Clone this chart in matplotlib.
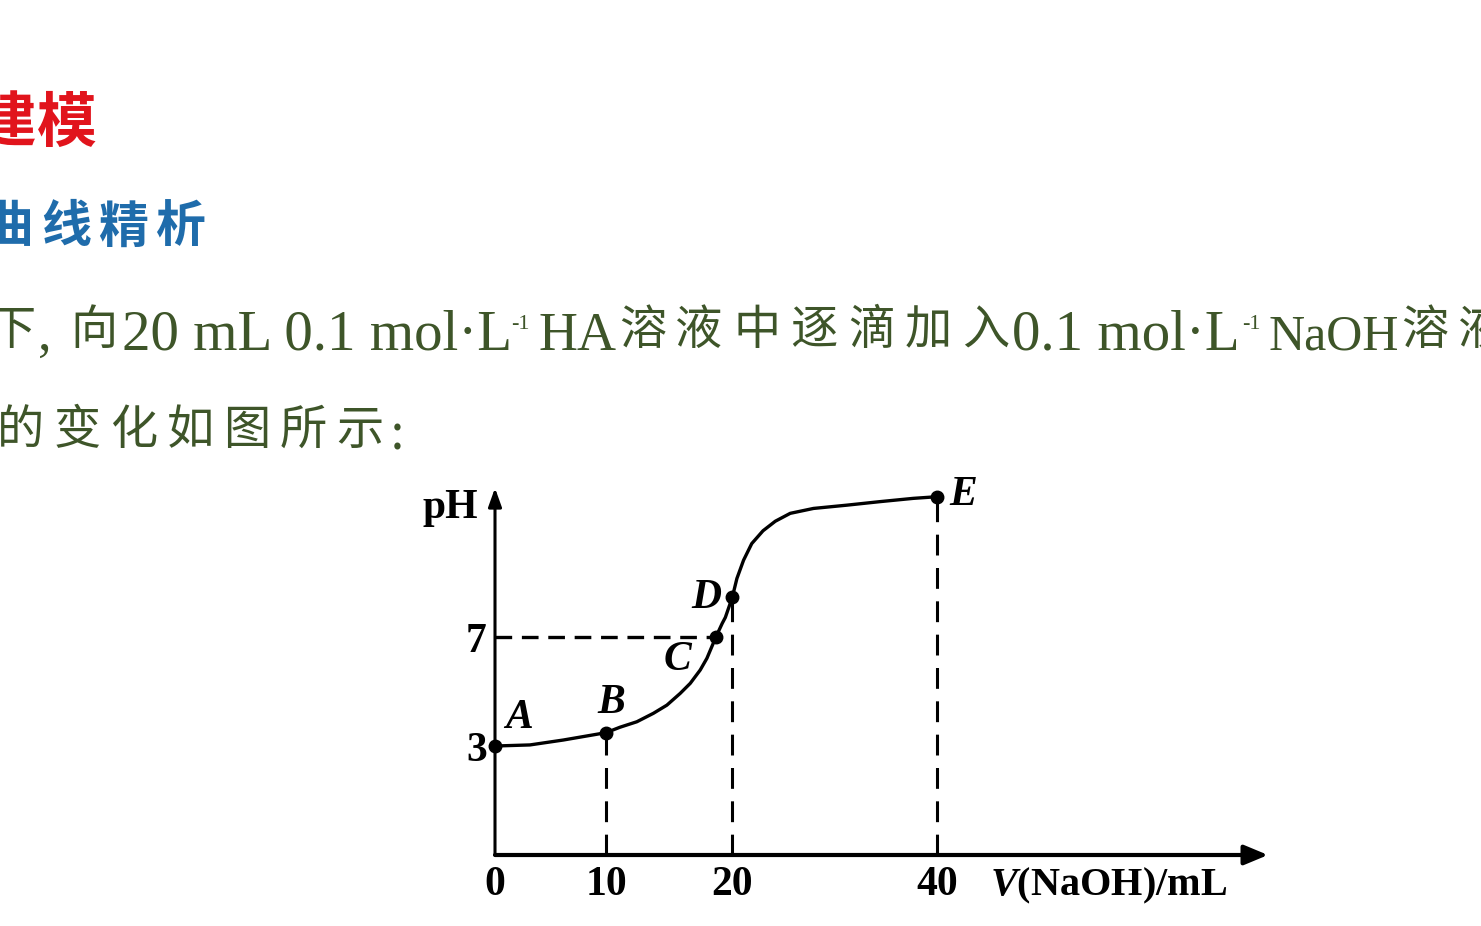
import numpy as np
import matplotlib
matplotlib.use('Agg')
import matplotlib.pyplot as plt

# titration curve of HA with NaOH
vol = [0, 3.15, 6.15, 10, 11.11, 12.44, 13.75, 14.82, 15.87, 16.67, 17.46,
       17.99, 18.7, 19.2, 19.45, 20, 20.45, 21.1, 21.9, 23.0, 24.2, 25.66,
       27.93, 31.19, 34.44, 37.69, 40]
ph = [3.0, 3.04, 3.22, 3.49, 3.69, 3.89, 4.20, 4.50, 4.93, 5.30, 5.79,
      6.22, 7.0, 7.5, 7.72, 8.46, 9.15, 9.82, 10.43, 10.9, 11.25, 11.54,
      11.72, 11.84, 11.97, 12.09, 12.15]

pt_names = ['A', 'B', 'C', 'D', 'E']
pt_vol = [0, 10, 18.7, 20, 40]
pt_ph = [3.0, 3.49, 7.0, 8.46, 12.15]

x_ticks = [0, 10, 20, 40]
y_ticks = [3, 7]

W, H = 1481, 926
plt.rcParams['font.family'] = ['Liberation Serif', 'Noto Sans CJK SC']
plt.rcParams['mathtext.fontset'] = 'custom'
plt.rcParams['mathtext.rm'] = 'Liberation Serif:bold'
plt.rcParams['mathtext.it'] = 'Liberation Serif:italic:bold'
plt.rcParams['lines.scale_dashes'] = False

fig = plt.figure(figsize=(W / 100, H / 100), dpi=100)

green = '#3e5529'
cjk = ['Noto Sans CJK SC']


def han(x, y, s, step, **kw):
    # chinese characters one by one, the slide uses wide letter spacing
    for i, ch in enumerate(s):
        fig.text((x + i * step) / W, 1 - y / H, ch, ha='center', va='center',
                 family=cjk, **kw)


def latin(x, y, s, size=39, **kw):
    fig.text(x / W, 1 - y / H, s, ha='left', va='baseline', size=size,
             color=green, family=['Liberation Serif'], **kw)


# headings
han(6.5, 125, '建模', 60, size=43, weight='bold', color='#e1141c')
han(9, 228, '曲线精析', 57, size=36, weight='bold', color='#1f6cab')

# body text
body = dict(size=34, color=green)
han(12, 331, '下', 0, **body)
latin(38, 350, ',')
han(93.5, 331, '向', 0, **body)
latin(122, 350, '20 mL 0.1 mol·L', size=41)
latin(511, 329, '-1', size=16)
latin(538, 350, 'HA', size=39)
han(643, 331, '溶液', 56, **body)
han(757, 331, '中逐滴加入', 57.25, **body)
latin(1012, 350, '0.1 mol·L', size=41)
latin(1242, 329, '-1', size=16)
latin(1269, 350, 'NaOH', size=36)
han(1425, 331, '溶液', 57, **body)
han(21, 431, '的变化如图所示', 56.5, **body)
latin(390, 450, ':')

# chart
ax = fig.add_axes([495 / W, (H - 855) / H, 773 / W, (855 - 488) / H])
ax.set_facecolor('none')

# the drawing is not to scale: 10 -> 20 mL is a little stretched
knots_v = [-40, 0, 10, 20, 40, 120]
knots_p = [-444, 0, 111, 237.3, 442, 1258]


def fwd(v):
    return np.interp(v, knots_v, knots_p)


def inv(p):
    return np.interp(p, knots_p, knots_v)


ax.set_xscale('function', functions=(fwd, inv))
ax.set_xlim(0, 72.45)
ax.set_ylim(-1, 12.47)
for s in ax.spines.values():
    s.set_visible(False)

ax.annotate('', xy=(1, 0), xytext=(0, 0), xycoords='axes fraction',
            arrowprops=dict(arrowstyle='-|>,head_length=0.72,head_width=0.3',
                            lw=3.0, color='k', mutation_scale=20,
                            shrinkA=0, shrinkB=0))
ax.annotate('', xy=(0, 1), xytext=(0, 0), xycoords='axes fraction',
            arrowprops=dict(arrowstyle='-|>,head_length=0.7,head_width=0.25',
                            lw=2.2, color='k', mutation_scale=16,
                            shrinkA=0, shrinkB=0))

dash = (12, 7)
ax.hlines(7, 0, pt_vol[2], colors='k', lw=2.4, linestyles=[(0, dash)])
for v, p in zip(pt_vol[1:], pt_ph[1:]):
    if v in x_ticks:
        ax.vlines(v, -1, p, colors='k', lw=2.2, linestyles=[(0, (15, 9))])

ax.plot(vol, ph, color='k', lw=2.4, solid_capstyle='round',
        solid_joinstyle='round', clip_on=False)
ax.plot(pt_vol, pt_ph, 'o', ms=9, color='k', clip_on=False, zorder=5)

offsets = [(24, 28), (5, 30), (-38, -23), (-26, -1), (26, 2)]
for name, v, p, off in zip(pt_names, pt_vol, pt_ph, offsets):
    ax.annotate(name, (v, p), xytext=off, textcoords='offset pixels',
                ha='center', va='center', size=30, style='italic',
                weight='bold', annotation_clip=False)

ax.set_xticks(x_ticks)
ax.set_xticklabels([str(t) for t in x_ticks])
ax.set_yticks(y_ticks)
ax.set_yticklabels([str(t) for t in y_ticks])
ax.tick_params(length=0, labelsize=30)
ax.tick_params(axis='x', pad=8)
ax.tick_params(axis='y', pad=6)
for lab in ax.get_xticklabels() + ax.get_yticklabels():
    lab.set_fontweight('bold')

ax.set_ylabel('pH', rotation=0, size=30, weight='bold', ha='center', va='center')
ax.yaxis.set_label_coords(-0.058, 0.945)
ax.set_xlabel(r'$V$(NaOH)/mL', size=29, weight='bold', ha='left', va='center')
ax.xaxis.set_label_coords(0.640, -0.085)

fig.savefig('out.png', dpi=100)
